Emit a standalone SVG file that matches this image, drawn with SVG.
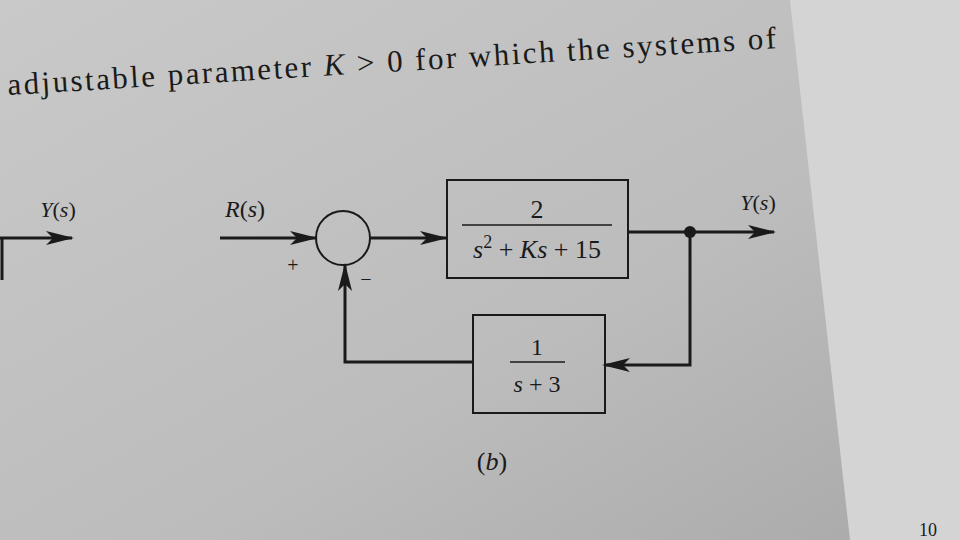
<svg xmlns="http://www.w3.org/2000/svg" width="960" height="540" viewBox="0 0 960 540">
<defs>
<linearGradient id="bg" x1="0" y1="0" x2="1" y2="1">
<stop offset="0" stop-color="#c9c9c9"/><stop offset="0.6" stop-color="#bcbcbc"/><stop offset="1" stop-color="#a9a9a9"/>
</linearGradient>
<marker id="ah" markerWidth="28" markerHeight="14" refX="26" refY="7" orient="auto" markerUnits="userSpaceOnUse">
<path d="M0,0 L28,7 L0,14 L7,7 Z" fill="#1a1a1a"/>
</marker>
<style>
.ln{stroke:#1a1a1a;stroke-width:3;fill:none}
.bx{stroke:#1a1a1a;stroke-width:2;fill:none}
.t{font-family:"Liberation Serif",serif;fill:#1a1a1a}
.i{font-style:italic}
</style>
</defs>
<rect width="960" height="540" fill="url(#bg)"/>
<polygon points="790,0 960,0 960,540 850,540" fill="#d4d4d4"/>
<text class="t" font-size="31" transform="rotate(-3.5 10 95)" x="8" y="95" textLength="770">adjustable parameter <tspan class="i">K</tspan> &gt; 0 for which the systems of</text>
<g id="connectors">
<path class="ln" d="M0,238 L72,238" marker-end="url(#ah)"/>
<path class="ln" d="M2,238 L2,280"/>
<path class="ln" d="M220,238 L316,238" marker-end="url(#ah)"/>
<path class="ln" d="M370,238 L446,238" marker-end="url(#ah)"/>
<path class="ln" d="M628,232 L774,232" marker-end="url(#ah)"/>
<path class="ln" d="M690,232 L690,365 L604,365" marker-end="url(#ah)"/>
<path class="ln" d="M473,362 L345,362 L345,265" marker-end="url(#ah)"/>
<circle cx="690" cy="232" r="6" fill="#1a1a1a"/>
</g>
<g id="sum"><circle cx="343" cy="238" r="27" class="bx"/>
<text class="t" x="293" y="272" font-size="20" text-anchor="middle">+</text>
<text class="t" x="366" y="286" font-size="20" text-anchor="middle">−</text></g>
<g id="G"><rect x="447" y="180" width="181" height="98" class="bx"/>
<text class="t" x="537" y="218" font-size="26" text-anchor="middle">2</text>
<line x1="462" y1="225" x2="612" y2="225" stroke="#1a1a1a" stroke-width="1.5"/>
<text class="t" x="537" y="258" font-size="26" text-anchor="middle"><tspan class="i">s</tspan><tspan dy="-10" font-size="18">2</tspan><tspan dy="10"> + </tspan><tspan class="i">Ks</tspan> + 15</text></g>
<g id="H"><rect x="473" y="315" width="132" height="98" class="bx"/>
<text class="t" x="537" y="355" font-size="24" text-anchor="middle">1</text>
<line x1="510" y1="362" x2="565" y2="362" stroke="#1a1a1a" stroke-width="1.5"/>
<text class="t" x="537" y="392" font-size="24" text-anchor="middle"><tspan class="i">s</tspan> + 3</text></g>
<text class="t" x="58" y="217" font-size="22" text-anchor="middle"><tspan class="i">Y</tspan>(<tspan class="i">s</tspan>)</text>
<text class="t" x="245" y="217" font-size="24" text-anchor="middle"><tspan class="i">R</tspan>(<tspan class="i">s</tspan>)</text>
<text class="t" x="758" y="210" font-size="22" text-anchor="middle"><tspan class="i">Y</tspan>(<tspan class="i">s</tspan>)</text>
<text class="t" x="492" y="470" font-size="26" text-anchor="middle">(<tspan class="i">b</tspan>)</text>
<text class="t" x="928" y="536" font-size="18" text-anchor="middle">10</text>
</svg>
